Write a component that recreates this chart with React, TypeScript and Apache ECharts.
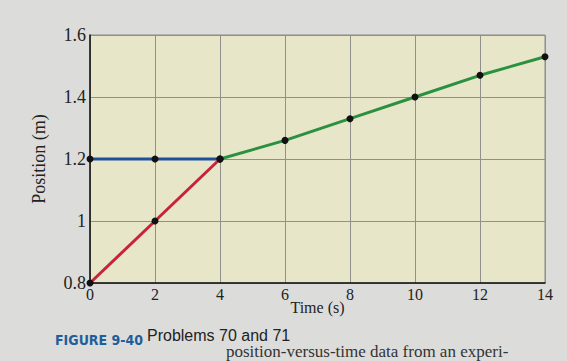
import React, { useEffect, useRef } from "react";
import * as echarts from "echarts";

const xTicks = [0, 2, 4, 6, 8, 10, 12, 14];
const yTicks = [0.8, 1.0, 1.2, 1.4, 1.6];
const redTimes = [0, 2, 4];
const redPositions = [0.8, 1.0, 1.2];
const blueTimes = [0, 2, 4];
const bluePositions = [1.2, 1.2, 1.2];
const greenTimes = [4, 6, 8, 10, 12, 14];
const greenPositions = [1.2, 1.26, 1.33, 1.4, 1.47, 1.53];

const zip = (xs: number[], ys: number[]) => xs.map((x, i) => [x, ys[i]]);

export default function App() {
  const ref = useRef<HTMLDivElement>(null);
  useEffect(() => {
    if (!ref.current) return;
    const chart = echarts.init(ref.current, null, { renderer: "svg" });
    const serif = "'Liberation Serif', 'DejaVu Serif', serif";
    const mk = (name: string, data: number[][], color: string) => ({
      name,
      type: "line",
      data,
      symbol: "circle",
      symbolSize: 7,
      lineStyle: { color, width: 3 },
      itemStyle: { color: "#111" },
      z: name === "green" ? 3 : 4,
    });
    chart.setOption({
      animation: false,
      backgroundColor: "#dcdddb",
      grid: { left: 90, right: 22, top: 35, bottom: 78, show: true, backgroundColor: "#e8e6c9", borderColor: "#8a8a88", borderWidth: 1 },
      xAxis: {
        type: "value",
        min: xTicks[0],
        max: xTicks[xTicks.length - 1],
        interval: 2,
        name: "Time (s)",
        nameLocation: "middle",
        nameGap: 16,
        nameMoveOverlap: false,
        nameTextStyle: { fontFamily: serif, fontSize: 16, color: "#222" },
        axisLine: { lineStyle: { color: "#111", width: 1.5 } },
        axisTick: { show: false },
        axisLabel: { fontFamily: serif, fontSize: 16, color: "#222", margin: 3 },
        splitLine: { lineStyle: { color: "#8f8f8c", width: 1 } },
      },
      yAxis: {
        type: "value",
        min: yTicks[0],
        max: yTicks[yTicks.length - 1],
        interval: 0.2,
        name: "Position (m)",
        nameLocation: "middle",
        nameGap: 42,
        nameMoveOverlap: false,
        nameTextStyle: { fontFamily: serif, fontSize: 18, color: "#222" },
        axisLine: { show: true, lineStyle: { color: "#111", width: 1.5 } },
        axisTick: { show: false },
        axisLabel: { fontFamily: serif, fontSize: 18, color: "#222", margin: 4 },
        splitLine: { lineStyle: { color: "#8f8f8c", width: 1 } },
      },
      series: [
        mk("green", zip(greenTimes, greenPositions), "#2a9140"),
        mk("blue", zip(blueTimes, bluePositions), "#1d4f9c"),
        mk("red", zip(redTimes, redPositions), "#c8223c"),
      ],
      graphic: [
        {
          type: "text",
          left: 55,
          top: 333,
          style: {
            text: "FIGURE 9-40",
            font: "bold 14px 'DejaVu Sans Condensed', 'Noto Sans', sans-serif",
            fill: "#1f5e9a",
          },
        },
        {
          type: "text",
          left: 147,
          top: 327,
          style: {
            text: "Problems 70 and 71",
            font: "16px 'Liberation Sans', 'Noto Sans', sans-serif",
            fill: "#222",
          },
        },
        {
          type: "text",
          left: 226,
          top: 343,
          style: {
            text: "position-versus-time data from an experi-",
            font: "17px 'Liberation Serif', serif",
            fill: "#333",
          },
        },
      ],
    });
    return () => chart.dispose();
  }, []);
  return (
    <div
      ref={ref}
      style={{ position: "absolute", left: 0, top: 0, width: 567, height: 361 }}
    />
  );
}
